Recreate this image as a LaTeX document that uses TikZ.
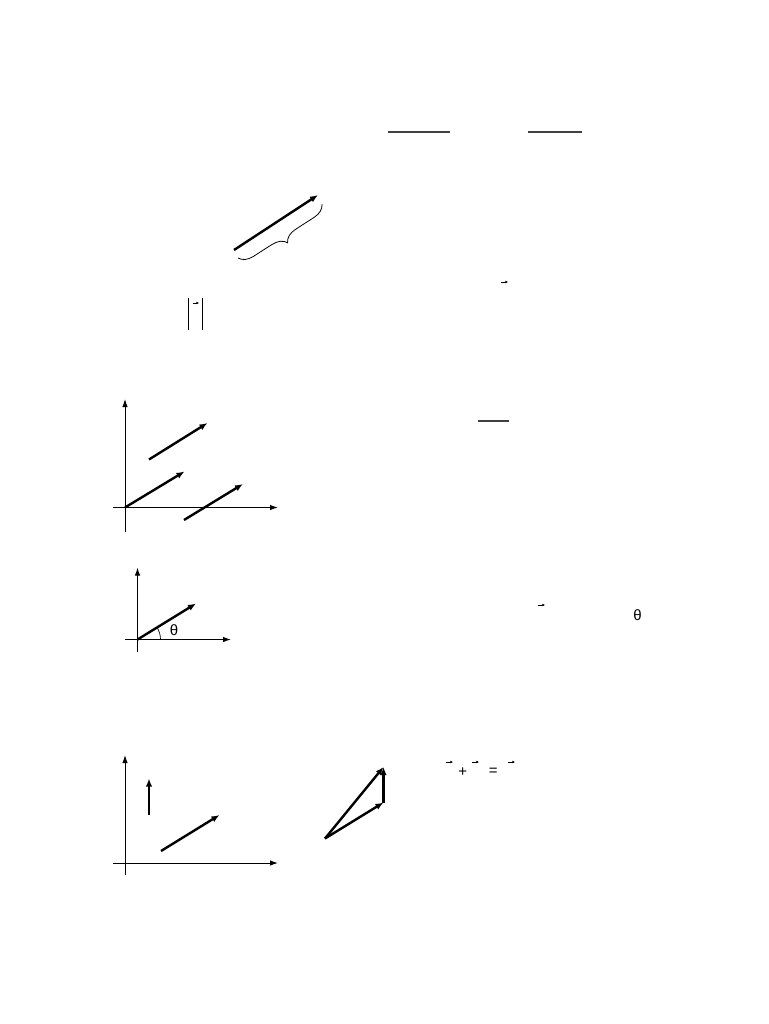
\documentclass[tikz,border=0pt]{standalone}
\usepackage{fontspec}
\setmainfont{Liberation Sans}
\usetikzlibrary{arrows.meta,decorations.pathreplacing}
\begin{document}
\begin{tikzpicture}[x=1pt,y=-1pt,
  axis/.style={line width=1pt,-{Latex[length=8pt,width=5.5pt]}},
  vec/.style={line width=2.4pt,-{Latex[length=8pt,width=6.5pt]}},
  blankline/.style={line width=1.2pt,draw=black!75},
  tinyarrow/.style={line width=0.7pt,-{Latex[length=2.6pt,width=2.6pt]}},
  lbl/.style={inner sep=0pt,font=\fontsize{15}{17}\selectfont}]
\useasboundingbox[fill=white] (0,0) rectangle (768,1024);
% blanks
\draw[blankline] (388,132) -- (450,132);
\draw[blankline] (528,132) -- (582,132);
\draw[blankline] (478,421) -- (509,421);
% magnitude arrow with brace
\draw[vec] (234,250) -- (318,195);
\draw[line width=0.8pt,decorate,decoration={brace,amplitude=14pt}] (322,204) -- (238,258);
% small vector arrows and bars
\draw[tinyarrow] (501,282) -- (508,282);
\draw[line width=0.8pt] (188,298) -- (188,330);
\draw[line width=0.8pt] (202,298) -- (202,330);
\draw[tinyarrow] (192.5,303) -- (199,303);
% graph 1
\coordinate (o1) at (125,507.5);
\draw[axis] (125,532) -- (125,399);
\draw[axis] (113,507.5) -- (278,507.5);
\draw[vec] (149,459.5) -- (207.5,423);
\draw[vec] (o1) -- (184.5,471.5);
\draw[vec] (184,520) -- (243,484);
% graph 2
\coordinate (o2) at (137.5,639.5);
\draw[axis] (137.5,652) -- (137.5,567.5);
\draw[axis] (125,639.5) -- (231,639.5);
\draw[vec] (o2) -- (196,603.5);
\draw[line width=0.7pt] (o2) ++(23,0) arc[start angle=0,end angle=-32,radius=23];
\node[lbl] (th1) at (174,630) {θ};
% text items right
\draw[tinyarrow] (538,605) -- (545,605);
\node[lbl] (th2) at (637.5,615) {θ};
% graph 3
\draw[axis] (125,875) -- (125,755);
\draw[axis] (113,863) -- (278,863);
\draw[vec] (149,815) -- (149,778.5);
\draw[vec] (161,851) -- (219.5,815);
% triangle
\coordinate (s) at (325,838.5);
\coordinate (m) at (383.5,802.5);
\coordinate (t) at (383.5,767);
\draw[vec] (s) -- (m);
\draw[vec] (m) -- (t);
\draw[vec] (s) -- (t);
% equation
\draw[tinyarrow] (446,762) -- (453,762);
\node[lbl] (plus) at (462.7,772.5) {+};
\draw[tinyarrow] (472,762) -- (479,762);
\node[lbl] (eq) at (493.3,772) {=};
\draw[tinyarrow] (508,762) -- (515,762);
\end{tikzpicture}
\end{document}
